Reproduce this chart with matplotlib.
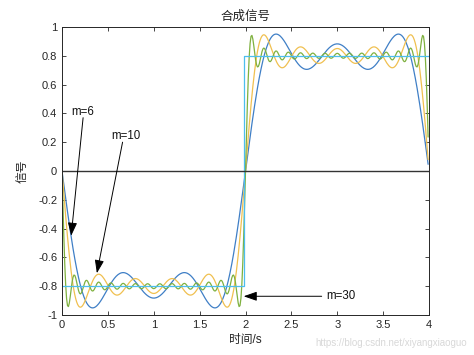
import numpy as np
import matplotlib
matplotlib.use("Agg")
import matplotlib.pyplot as plt

plt.rcParams['font.family'] = ['Liberation Sans', 'Noto Sans CJK SC', 'DejaVu Sans']

# chart data
amp = 0.8            # square wave amplitude
period = 4.0         # square wave period (s)
m_values = [6, 10, 30]
curve_colors = ['#3f7fc6', '#f0c050', '#7fb13f']
square_t = [0, 1.98, 1.98, 4]
square_y = [-0.8, -0.8, 0.8, 0.8]
labels = ['m=6', 'm=10', 'm=30']
label_xy = [(0.23, 0.41), (0.70, 0.24), (2.88, -0.87)]
arrow_start = [(0.23, 0.37), (0.66, 0.20), (2.83, -0.87)]
arrow_tip = [(0.10, -0.45), (0.38, -0.71), (1.98, -0.87)]

t = np.arange(0, period, 0.01)

def partial_sum(m):
    s = np.zeros_like(t)
    for n in range(1, m, 2):
        s += np.sin(n * np.pi * t / (period / 2)) / n
    return -amp * 4 / np.pi * s

fig = plt.figure(figsize=(4.74, 3.55), dpi=100)
ax = fig.add_axes([0.1308, 0.1127, 0.7743, 0.8113])

for m, c in zip(m_values, curve_colors):
    ax.plot(t, partial_sum(m), color=c, lw=0.9)
ax.plot(square_t, square_y, color='#4dbeee', lw=0.9)
ax.axhline(0, color='#333333', lw=1.0)

for lab, xy, s, e in zip(labels, label_xy, arrow_start, arrow_tip):
    ax.text(xy[0], xy[1], lab, fontsize=8.3, ha='left' if lab == 'm=30' else 'center',
            va='center', color='#111111')
    ax.annotate('', xy=e, xytext=s,
                arrowprops=dict(arrowstyle='-|>,head_length=0.8,head_width=0.28',
                                color='black', lw=0.7, shrinkA=0, shrinkB=0))

ax.set_xlim(0, 4)
ax.set_ylim(-1, 1)
ax.set_xticks(np.arange(0, 4.01, 0.5))
ax.set_xticklabels(['0', '0.5', '1', '1.5', '2', '2.5', '3', '3.5', '4'])
ax.set_yticks(np.round(np.arange(-1, 1.01, 0.2), 1))
ax.set_yticklabels(['-1', '-0.8', '-0.6', '-0.4', '-0.2', '0', '0.2', '0.4', '0.6', '0.8', '1'])
ax.tick_params(direction='in', top=True, right=True, length=3, width=0.6,
               labelsize=8, colors='#262626')
for sp in ax.spines.values():
    sp.set_color('#262626')
    sp.set_linewidth(0.7)

ax.set_title('合成信号', fontsize=9, color='#222222', pad=5)
ax.set_xlabel('时间/s', fontsize=8.5, color='#222222', labelpad=3)
ax.set_ylabel('信号', fontsize=8.5, color='#222222', labelpad=6)

fig.text(0.985, 0.035, 'https://blog.csdn.net/xiyangxiaoguo', fontsize=7,
         color='#d8d8d8', ha='right', va='center')

fig.savefig('out.png', dpi=100)
